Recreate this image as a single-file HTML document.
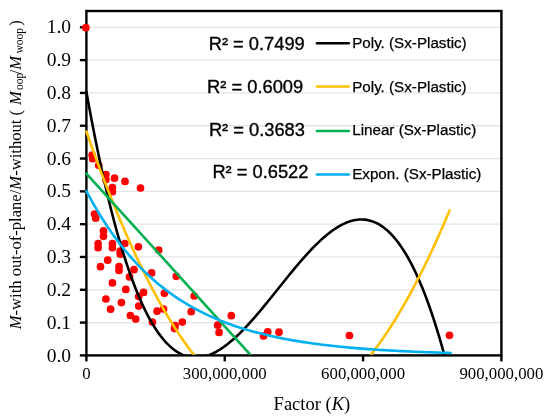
<!DOCTYPE html>
<html><head><meta charset="utf-8"><style>
html,body{margin:0;padding:0;background:#fff;}
svg{display:block;}
.serif{font-family:"Liberation Serif","Noto Serif CJK SC",serif;fill:#000;}
.sans{font-family:"Liberation Sans",Arial,sans-serif;fill:#000;}
</style></head><body>
<svg width="550" height="419" viewBox="0 0 550 419">
<defs><clipPath id="pa"><rect x="83.4" y="11.0" width="421.0" height="343.7"/></clipPath></defs>
<rect width="550" height="419" fill="#fff"/>
<g stroke="#e4e4e4" stroke-width="1.3"><line x1="86.4" x2="501.4" y1="322.59" y2="322.59"/><line x1="86.4" x2="501.4" y1="289.78" y2="289.78"/><line x1="86.4" x2="501.4" y1="256.97" y2="256.97"/><line x1="86.4" x2="501.4" y1="224.16" y2="224.16"/><line x1="86.4" x2="501.4" y1="191.35" y2="191.35"/><line x1="86.4" x2="501.4" y1="158.54" y2="158.54"/><line x1="86.4" x2="501.4" y1="125.73" y2="125.73"/><line x1="86.4" x2="501.4" y1="92.92" y2="92.92"/><line x1="86.4" x2="501.4" y1="60.11" y2="60.11"/><line x1="86.4" x2="501.4" y1="27.30" y2="27.30"/></g>

<g stroke="#000" stroke-width="2.4" fill="none">
<rect x="86.4" y="11.0" width="415.0" height="344.4"/>
<line x1="79.9" x2="86.4" y1="355.40" y2="355.40"/><line x1="79.9" x2="86.4" y1="322.59" y2="322.59"/><line x1="79.9" x2="86.4" y1="289.78" y2="289.78"/><line x1="79.9" x2="86.4" y1="256.97" y2="256.97"/><line x1="79.9" x2="86.4" y1="224.16" y2="224.16"/><line x1="79.9" x2="86.4" y1="191.35" y2="191.35"/><line x1="79.9" x2="86.4" y1="158.54" y2="158.54"/><line x1="79.9" x2="86.4" y1="125.73" y2="125.73"/><line x1="79.9" x2="86.4" y1="92.92" y2="92.92"/><line x1="79.9" x2="86.4" y1="60.11" y2="60.11"/><line x1="79.9" x2="86.4" y1="27.30" y2="27.30"/><line x1="86.40" x2="86.40" y1="355.4" y2="361.4"/><line x1="224.73" x2="224.73" y1="355.4" y2="361.4"/><line x1="363.07" x2="363.07" y1="355.4" y2="361.4"/><line x1="501.40" x2="501.40" y1="355.4" y2="361.4"/>
</g>
<g fill="#ff0000"><circle cx="85.9" cy="27.7" r="3.85"/><circle cx="92.1" cy="155.1" r="3.85"/><circle cx="92.7" cy="158.7" r="3.85"/><circle cx="98.7" cy="165.3" r="3.85"/><circle cx="105.9" cy="174.5" r="3.85"/><circle cx="105.9" cy="179.6" r="3.85"/><circle cx="114.5" cy="178.2" r="3.85"/><circle cx="125" cy="181.4" r="3.85"/><circle cx="140.5" cy="188" r="3.85"/><circle cx="112.4" cy="187.6" r="3.85"/><circle cx="112.4" cy="191.7" r="3.85"/><circle cx="94.5" cy="214" r="3.85"/><circle cx="95.7" cy="218.2" r="3.85"/><circle cx="103.5" cy="230.9" r="3.85"/><circle cx="103.5" cy="236.3" r="3.85"/><circle cx="98.1" cy="243.5" r="3.85"/><circle cx="98.1" cy="247.7" r="3.85"/><circle cx="112.4" cy="243.5" r="3.85"/><circle cx="112.4" cy="247.7" r="3.85"/><circle cx="124.8" cy="243.5" r="3.85"/><circle cx="120.2" cy="251.2" r="3.85"/><circle cx="120.4" cy="254.2" r="3.85"/><circle cx="107.7" cy="260.2" r="3.85"/><circle cx="100.5" cy="266.7" r="3.85"/><circle cx="119" cy="266.7" r="3.85"/><circle cx="119" cy="270.4" r="3.85"/><circle cx="129.5" cy="276.9" r="3.85"/><circle cx="112.4" cy="282.9" r="3.85"/><circle cx="125.8" cy="289.4" r="3.85"/><circle cx="105.9" cy="299" r="3.85"/><circle cx="121.4" cy="302.6" r="3.85"/><circle cx="110.6" cy="309.2" r="3.85"/><circle cx="130.4" cy="315.5" r="3.85"/><circle cx="135.7" cy="319.1" r="3.85"/><circle cx="138.4" cy="246.8" r="3.85"/><circle cx="158.7" cy="250.1" r="3.85"/><circle cx="134" cy="269.7" r="3.85"/><circle cx="151.6" cy="272.9" r="3.85"/><circle cx="143.5" cy="292.4" r="3.85"/><circle cx="138.7" cy="296.6" r="3.85"/><circle cx="164.4" cy="293.3" r="3.85"/><circle cx="138.7" cy="306.1" r="3.85"/><circle cx="157.1" cy="311.2" r="3.85"/><circle cx="163.5" cy="309" r="3.85"/><circle cx="152.4" cy="322.1" r="3.85"/><circle cx="175.1" cy="325.7" r="3.85"/><circle cx="174.5" cy="328.6" r="3.85"/><circle cx="176.3" cy="276.3" r="3.85"/><circle cx="194.2" cy="296" r="3.85"/><circle cx="191.2" cy="311.7" r="3.85"/><circle cx="182.3" cy="322.1" r="3.85"/><circle cx="231.3" cy="315.7" r="3.85"/><circle cx="217.7" cy="325.2" r="3.85"/><circle cx="219.1" cy="332.4" r="3.85"/><circle cx="267.7" cy="331.9" r="3.85"/><circle cx="263.5" cy="336" r="3.85"/><circle cx="279" cy="332.2" r="3.85"/><circle cx="349.4" cy="335.5" r="3.85"/><circle cx="449.5" cy="335.3" r="3.85"/></g>
<g clip-path="url(#pa)" fill="none" stroke-width="2.6" stroke-linecap="round">
<path d="M86.40,91.72 L88.21,101.78 L90.01,111.61 L91.82,121.20 L93.63,130.56 L95.44,139.69 L97.24,148.60 L99.05,157.28 L100.86,165.74 L102.66,173.98 L104.47,182.01 L106.28,189.82 L108.08,197.42 L109.89,204.80 L111.70,211.98 L113.51,218.96 L115.31,225.73 L117.12,232.31 L118.93,238.68 L120.73,244.86 L122.54,250.84 L124.35,256.63 L126.15,262.24 L127.96,267.65 L129.77,272.89 L131.58,277.93 L133.38,282.80 L135.19,287.50 L137.00,292.01 L138.80,296.36 L140.61,300.53 L142.42,304.53 L144.23,308.37 L146.03,312.05 L147.84,315.56 L149.65,318.91 L151.45,322.11 L153.26,325.15 L155.07,328.04 L156.87,330.78 L158.68,333.37 L160.49,335.81 L162.30,338.11 L164.10,340.27 L165.91,342.29 L167.72,344.17 L169.52,345.92 L171.33,347.54 L173.14,349.03 L174.94,350.38 L176.75,351.62 L178.56,352.73 L180.37,353.72 L182.17,354.59 L183.98,355.34 L185.79,355.98 L187.59,356.51 L189.40,356.93 L191.21,357.24 L193.02,357.44 L194.82,357.54 L196.63,357.54 L198.44,357.45 L200.24,357.25 L202.05,356.96 L203.86,356.58 L205.66,356.11 L207.47,355.56 L209.28,354.91 L211.09,354.19 L212.89,353.38 L214.70,352.49 L216.51,351.53 L218.31,350.50 L220.12,349.39 L221.93,348.21 L223.73,346.96 L225.54,345.65 L227.35,344.28 L229.16,342.84 L230.96,341.35 L232.77,339.80 L234.58,338.19 L236.38,336.53 L238.19,334.82 L240.00,333.07 L241.81,331.27 L243.61,329.42 L245.42,327.54 L247.23,325.61 L249.03,323.65 L250.84,321.65 L252.65,319.62 L254.45,317.56 L256.26,315.47 L258.07,313.36 L259.88,311.22 L261.68,309.06 L263.49,306.88 L265.30,304.68 L267.10,302.47 L268.91,300.25 L270.72,298.01 L272.52,295.76 L274.33,293.51 L276.14,291.26 L277.95,289.00 L279.75,286.74 L281.56,284.48 L283.37,282.23 L285.17,279.98 L286.98,277.75 L288.79,275.52 L290.59,273.30 L292.40,271.10 L294.21,268.92 L296.02,266.76 L297.82,264.62 L299.63,262.50 L301.44,260.40 L303.24,258.34 L305.05,256.30 L306.86,254.30 L308.67,252.33 L310.47,250.39 L312.28,248.50 L314.09,246.64 L315.89,244.83 L317.70,243.06 L319.51,241.34 L321.31,239.67 L323.12,238.05 L324.93,236.48 L326.74,234.97 L328.54,233.51 L330.35,232.11 L332.16,230.78 L333.96,229.51 L335.77,228.30 L337.58,227.16 L339.38,226.09 L341.19,225.10 L343.00,224.17 L344.81,223.33 L346.61,222.56 L348.42,221.87 L350.23,221.27 L352.03,220.75 L353.84,220.31 L355.65,219.97 L357.46,219.71 L359.26,219.55 L361.07,219.48 L362.88,219.51 L364.68,219.64 L366.49,219.87 L368.30,220.20 L370.10,220.64 L371.91,221.18 L373.72,221.84 L375.53,222.60 L377.33,223.48 L379.14,224.48 L380.95,225.59 L382.75,226.82 L384.56,228.18 L386.37,229.65 L388.17,231.26 L389.98,232.99 L391.79,234.85 L393.60,236.84 L395.40,238.97 L397.21,241.23 L399.02,243.63 L400.82,246.17 L402.63,248.85 L404.44,251.68 L406.25,254.65 L408.05,257.77 L409.86,261.05 L411.67,264.47 L413.47,268.05 L415.28,271.78 L417.09,275.67 L418.89,279.72 L420.70,283.94 L422.51,288.32 L424.32,292.86 L426.12,297.58 L427.93,302.46 L429.74,307.52 L431.54,312.75 L433.35,318.16 L435.16,323.74 L436.96,329.51 L438.77,335.46 L440.58,341.59 L442.39,347.91 L444.19,354.41 L446.00,361.11" stroke="#000"/>
<path d="M86.40,131.47 L88.23,136.69 L90.05,141.87 L91.88,146.99 L93.70,152.07 L95.53,157.09 L97.35,162.07 L99.18,167.00 L101.00,171.87 L102.83,176.70 L104.65,181.48 L106.48,186.20 L108.30,190.88 L110.13,195.51 L111.95,200.09 L113.78,204.62 L115.60,209.10 L117.43,213.53 L119.25,217.91 L121.08,222.25 L122.90,226.53 L124.73,230.76 L126.55,234.95 L128.38,239.08 L130.20,243.17 L132.03,247.20 L133.85,251.19 L135.68,255.12 L137.50,259.01 L139.33,262.85 L141.15,266.64 L142.98,270.38 L144.80,274.07 L146.63,277.71 L148.45,281.30 L150.28,284.85 L152.10,288.34 L153.93,291.78 L155.75,295.18 L157.58,298.53 L159.41,301.82 L161.23,305.07 L163.06,308.27 L164.88,311.42 L166.71,314.52 L168.53,317.57 L170.36,320.58 L172.18,323.53 L174.01,326.43 L175.83,329.29 L177.66,332.09 L179.48,334.85 L181.31,337.56 L183.13,340.22 L184.96,342.83 L186.78,345.39 L188.61,347.91 L190.43,350.37 L192.26,352.78 L194.08,355.15 L195.91,357.47 L197.73,359.74 L199.56,361.96 L201.38,364.13 L203.21,366.25 L205.03,368.32 L206.86,370.35 L208.68,372.32 L210.51,374.25 L212.33,376.13 L214.16,377.95 L215.98,379.74 L217.81,381.47 L219.63,383.15 L221.46,384.78 L223.28,386.37 L225.11,387.91 L226.93,389.40 L228.76,390.84 L230.58,392.23 L232.41,393.57 L234.24,394.87 L236.06,396.11 L237.89,397.31 L239.71,398.46 L241.54,399.56 L243.36,400.61 L245.19,401.61 L247.01,402.57 L248.84,403.47 L250.66,404.33 L252.49,405.14 L254.31,405.90 L256.14,406.61 L257.96,407.28 L259.79,407.89 L261.61,408.46 L263.44,408.98 L265.26,409.45 L267.09,409.87 L268.91,410.25 L270.74,410.57 L272.56,410.85 L274.39,411.08 L276.21,411.26 L278.04,411.39 L279.86,411.48 L281.69,411.51 L283.51,411.50 L285.34,411.44 L287.16,411.33 L288.99,411.18 L290.81,410.97 L292.64,410.72 L294.46,410.42 L296.29,410.07 L298.11,409.67 L299.94,409.23 L301.76,408.73 L303.59,408.19 L305.42,407.60 L307.24,406.97 L309.07,406.28 L310.89,405.55 L312.72,404.77 L314.54,403.94 L316.37,403.06 L318.19,402.14 L320.02,401.16 L321.84,400.14 L323.67,399.07 L325.49,397.96 L327.32,396.79 L329.14,395.58 L330.97,394.32 L332.79,393.01 L334.62,391.66 L336.44,390.25 L338.27,388.80 L340.09,387.30 L341.92,385.76 L343.74,384.16 L345.57,382.52 L347.39,380.83 L349.22,379.09 L351.04,377.31 L352.87,375.47 L354.69,373.59 L356.52,371.67 L358.34,369.69 L360.17,367.67 L361.99,365.59 L363.82,363.48 L365.64,361.31 L367.47,359.10 L369.29,356.83 L371.12,354.53 L372.94,352.17 L374.77,349.77 L376.59,347.31 L378.42,344.82 L380.25,342.27 L382.07,339.68 L383.90,337.03 L385.72,334.35 L387.55,331.61 L389.37,328.83 L391.20,326.00 L393.02,323.12 L394.85,320.19 L396.67,317.22 L398.50,314.20 L400.32,311.13 L402.15,308.02 L403.97,304.86 L405.80,301.65 L407.62,298.39 L409.45,295.09 L411.27,291.73 L413.10,288.34 L414.92,284.89 L416.75,281.40 L418.57,277.86 L420.40,274.27 L422.22,270.64 L424.05,266.96 L425.87,263.23 L427.70,259.45 L429.52,255.63 L431.35,251.76 L433.17,247.85 L435.00,243.88 L436.82,239.87 L438.65,235.81 L440.47,231.71 L442.30,227.56 L444.12,223.36 L445.95,219.11 L447.77,214.82 L449.60,210.48" stroke="#ffc000"/>
<path d="M86.4,173.52 L286.4,394.61" stroke="#00b050"/>
<path d="M86.40,191.03 L89.46,196.75 L92.52,202.28 L95.58,207.61 L98.64,212.75 L101.70,217.72 L104.76,222.51 L107.82,227.14 L110.88,231.61 L113.94,235.92 L117.01,240.08 L120.07,244.09 L123.13,247.97 L126.19,251.71 L129.25,255.32 L132.31,258.80 L135.37,262.17 L138.43,265.41 L141.49,268.54 L144.55,271.57 L147.61,274.49 L150.67,277.30 L153.73,280.02 L156.79,282.65 L159.85,285.18 L162.91,287.63 L165.97,289.99 L169.03,292.26 L172.09,294.46 L175.15,296.58 L178.22,298.63 L181.28,300.61 L184.34,302.52 L187.40,304.36 L190.46,306.13 L193.52,307.85 L196.58,309.50 L199.64,311.10 L202.70,312.64 L205.76,314.13 L208.82,315.57 L211.88,316.96 L214.94,318.30 L218.00,319.59 L221.06,320.83 L224.12,322.04 L227.18,323.20 L230.24,324.32 L233.30,325.40 L236.36,326.45 L239.43,327.45 L242.49,328.43 L245.55,329.37 L248.61,330.27 L251.67,331.15 L254.73,331.99 L257.79,332.81 L260.85,333.59 L263.91,334.35 L266.97,335.09 L270.03,335.79 L273.09,336.48 L276.15,337.13 L279.21,337.77 L282.27,338.38 L285.33,338.98 L288.39,339.55 L291.45,340.10 L294.51,340.63 L297.57,341.15 L300.64,341.64 L303.70,342.12 L306.76,342.59 L309.82,343.03 L312.88,343.46 L315.94,343.88 L319.00,344.28 L322.06,344.67 L325.12,345.04 L328.18,345.40 L331.24,345.75 L334.30,346.08 L337.36,346.41 L340.42,346.72 L343.48,347.02 L346.54,347.32 L349.60,347.60 L352.66,347.87 L355.72,348.13 L358.78,348.38 L361.85,348.63 L364.91,348.86 L367.97,349.09 L371.03,349.31 L374.09,349.52 L377.15,349.73 L380.21,349.93 L383.27,350.12 L386.33,350.30 L389.39,350.48 L392.45,350.65 L395.51,350.81 L398.57,350.97 L401.63,351.13 L404.69,351.28 L407.75,351.42 L410.81,351.56 L413.87,351.69 L416.93,351.82 L419.99,351.95 L423.06,352.07 L426.12,352.18 L429.18,352.29 L432.24,352.40 L435.30,352.51 L438.36,352.61 L441.42,352.71 L444.48,352.80 L447.54,352.89 L450.60,352.98" stroke="#00b0f0"/>
</g>

<g class="serif" font-size="19.5" text-anchor="end"><text x="71" y="361.50">0.0</text><text x="71" y="328.69">0.1</text><text x="71" y="295.88">0.2</text><text x="71" y="263.07">0.3</text><text x="71" y="230.26">0.4</text><text x="71" y="197.45">0.5</text><text x="71" y="164.64">0.6</text><text x="71" y="131.83">0.7</text><text x="71" y="99.02">0.8</text><text x="71" y="66.21">0.9</text><text x="71" y="33.40">1.0</text></g>
<g class="serif" font-size="16.8" text-anchor="middle"><text x="86.40" y="378.8">0</text><text x="224.73" y="378.8">300,000,000</text><text x="363.07" y="378.8">600,000,000</text><text x="501.40" y="378.8">900,000,000</text></g>
<text class="serif" font-size="18.5" x="273.6" y="409.8">Factor (<tspan font-style="italic">K</tspan>)</text>
<text class="serif" font-size="16.6" transform="translate(20.6,329.3) rotate(-90)"><tspan font-style="italic">M</tspan>-with out-of-plane/<tspan font-style="italic">M</tspan>-without (<tspan font-style="italic" x="224.4">M</tspan><tspan font-size="11.5" dy="2.6" x="239.3">oop</tspan><tspan dy="-2.6" x="255">/</tspan><tspan font-style="italic" x="259.5">M</tspan><tspan font-size="11.5" dy="2.6" x="275.8">woop</tspan><tspan dy="-2.6" x="303.6">)</tspan></text>
<g class="sans" font-size="18.3" stroke="#000" stroke-width="0.35">
<text x="208.7" y="49.5">R² = 0.7499</text>
<text x="207.1" y="92.5">R² = 0.6009</text>
<text x="208.9" y="136.2">R² = 0.3683</text>
<text x="212.4" y="177.8">R² = 0.6522</text>
</g>
<g stroke-width="2.5" fill="none" stroke-linecap="round">
<line x1="316.9" x2="348.8" y1="43.3" y2="43.3" stroke="#000"/>
<line x1="316.9" x2="348.8" y1="86.6" y2="86.6" stroke="#ffc000"/>
<line x1="316.9" x2="348.8" y1="131" y2="131" stroke="#00b050"/>
<line x1="316.9" x2="348.8" y1="174.4" y2="174.4" stroke="#00b0f0"/>
</g>
<g class="sans" font-size="15.2" stroke="#000" stroke-width="0.25">
<text x="352.2" y="47.7">Poly. (Sx-Plastic)</text>
<text x="352.2" y="91.8">Poly. (Sx-Plastic)</text>
<text x="352.2" y="135.1">Linear (Sx-Plastic)</text>
<text x="352.2" y="178.8">Expon. (Sx-Plastic)</text>
</g>
</svg>
</body></html>
